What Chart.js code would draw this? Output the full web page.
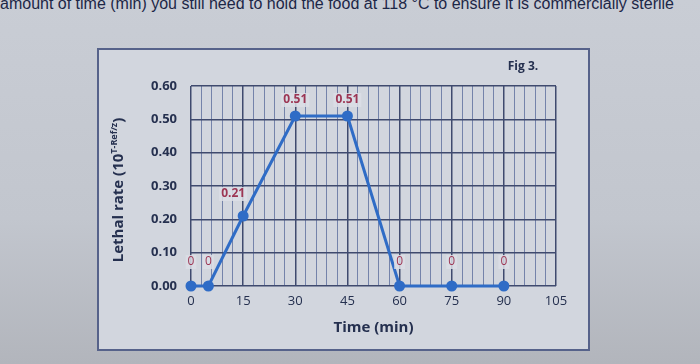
<!DOCTYPE html>
<html>
<head>
<meta charset="utf-8">
<style>
  html, body {
    margin: 0;
    width: 700px;
    height: 364px;
    overflow: hidden;
  }
  body {
    position: relative;
    background: linear-gradient(180deg, #c9cdd5 0%, #c2c6ce 60%, #b2b5bc 100%);
    font-family: "Liberation Sans", Arial, sans-serif;
  }
  #header {
    position: absolute;
    left: 0;
    top: -5px;
    font-size: 16px;
    color: #1d2747;
    white-space: nowrap;
  }
  #frame {
    position: absolute;
    left: 97px;
    top: 48px;
    width: 489px;
    height: 299px;
    border: 2px solid #56628a;
    background: #d2d6de;
  }
  #wrap {
    position: absolute;
    left: 0;
    top: 0;
    width: 700px;
    height: 364px;
  }
</style>
</head>
<body>
<div id="header">amount of time (min) you still need to hold the food at 118 °C to ensure it is commercially sterile</div>
<div id="frame"></div>
<div id="wrap"><canvas id="chart" width="700" height="364"></canvas></div>

<script src="https://cdn.jsdelivr.net/npm/chart.js"></script>
<script>
  // data
  const times = [0, 5, 15, 30, 45, 60, 75, 90];
  const lethalRates = [0, 0, 0.21, 0.51, 0.51, 0, 0, 0];
  const pointLabels = ['0', '0', '0.21', '0.51', '0.51', '0', '0', '0'];

  const xTitle = 'Time (min)';
  const yTitle = 'Lethal rate (10';
  const yTitleSup = 'T-Ref/z';
  const figLabel = 'Fig 3.';

  const navy = '#25304f';

  // labels above the points, plus the axis title and "Fig 3."
  const extras = {
    id: 'extras',
    afterDatasetsDraw(chart) {
      const c = chart.ctx;
      const meta = chart.getDatasetMeta(0);
      c.save();
      c.textAlign = 'center';
      c.textBaseline = 'middle';
      meta.data.forEach((pt, i) => {
        const v = lethalRates[i];
        let dx = 0, dy = -16;
        if (v === 0) dy = -24;
        else if (v < 0.3) { dx = -10; dy = -22; }
        c.font = (v === 0 ? '' : 'bold ') + '12px "Open Sans", sans-serif';
        const w = c.measureText(pointLabels[i]).width;
        c.fillStyle = 'rgba(220,222,230,0.85)';
        c.fillRect(pt.x + dx - w / 2 - 2, pt.y + dy - 7, w + 4, 14);
        c.fillStyle = '#9c3553';
        c.fillText(pointLabels[i], pt.x + dx, pt.y + dy);
      });

      // y axis title with superscript
      c.translate(119, 190);
      c.rotate(-Math.PI / 2);
      c.fillStyle = navy;
      c.textAlign = 'left';
      c.font = 'bold 15px "Open Sans", sans-serif';
      const mainW = c.measureText(yTitle).width;
      c.font = 'bold 9px "Open Sans", sans-serif';
      const supW = c.measureText(yTitleSup).width;
      c.font = 'bold 15px "Open Sans", sans-serif';
      const closeW = c.measureText(')').width;
      const total = mainW + supW + closeW;
      let x0 = -total / 2;
      c.fillText(yTitle, x0, 0);
      c.font = 'bold 9px "Open Sans", sans-serif';
      c.fillText(yTitleSup, x0 + mainW, -5);
      c.font = 'bold 15px "Open Sans", sans-serif';
      c.fillText(')', x0 + mainW + supW, 0);
      c.restore();

      c.save();
      c.fillStyle = navy;
      c.font = 'bold 12px "Open Sans", sans-serif';
      c.textAlign = 'center';
      c.textBaseline = 'middle';
      c.fillText(figLabel, 523, 67);
      c.restore();
    }
  };

  new Chart(document.getElementById('chart'), {
    type: 'line',
    data: {
      datasets: [{
        data: times.map((t, i) => ({ x: t, y: lethalRates[i] })),
        borderColor: '#2f6cc6',
        backgroundColor: '#2f6cc6',
        borderWidth: 3,
        pointRadius: 4,
        tension: 0,
        clip: false
      }]
    },
    options: {
      responsive: false,
      animation: false,
      layout: { padding: { top: 86, right: 144, left: 0, bottom: 27 } },
      plugins: { legend: { display: false }, tooltip: { enabled: false } },
      scales: {
        x: {
          type: 'linear',
          min: 0,
          max: 105,
          afterFit: s => { s.height = 51; },
          afterBuildTicks: s => {
            s.ticks = [];
            for (let v = 0; v <= 105; v += 3) s.ticks.push({ value: v });
          },
          ticks: {
            autoSkip: false,
            maxRotation: 0,
            padding: 7,
            color: navy,
            font: { family: '"Open Sans", sans-serif', size: 13 },
            callback: v => (v % 15 === 0 ? String(v) : '')
          },
          grid: {
            drawTicks: false,
            color: ctx => (ctx.tick && ctx.tick.value % 15 === 0 ? '#3f4a6e' : '#7483aa'),
            lineWidth: ctx => (ctx.tick && ctx.tick.value % 15 === 0 ? 1.5 : 1)
          },
          border: { display: false },
          title: {
            display: true,
            text: xTitle,
            color: navy,
            font: { family: '"Open Sans", sans-serif', size: 15, weight: 'bold' },
            padding: { top: 0, bottom: 0 }
          }
        },
        y: {
          min: 0,
          max: 0.6,
          afterFit: s => { s.width = 191; },
          ticks: {
            stepSize: 0.1,
            padding: 14,
            color: navy,
            font: { family: '"Open Sans", sans-serif', size: 13, weight: 'bold' },
            callback: v => v.toFixed(2)
          },
          grid: { drawTicks: false, color: '#3f4a6e', lineWidth: 1.5 },
          border: { display: false }
        }
      }
    },
    plugins: [extras]
  });
</script>
</body>
</html>
